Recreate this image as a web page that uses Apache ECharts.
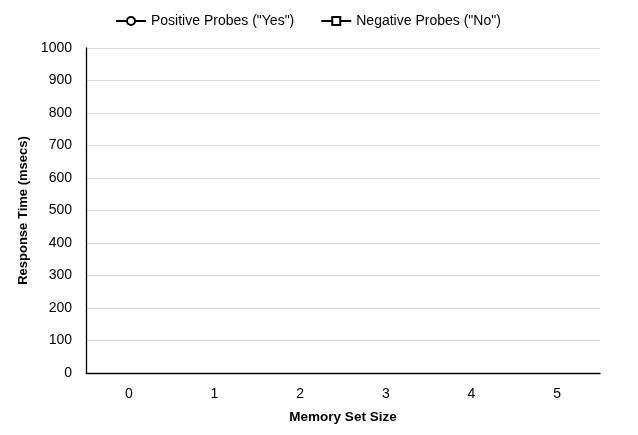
<!DOCTYPE html>
<html>
<head>
<meta charset="utf-8">
<script src="https://cdn.jsdelivr.net/npm/echarts@6/dist/echarts.min.js"></script>
<style>html,body{margin:0;padding:0;background:#fff}#c{width:638px;height:435px}</style>
</head>
<body>
<div id="c"></div>
<script>
var categories = ['0', '1', '2', '3', '4', '5'];
var positiveYes = [null, null, null, null, null, null];
var negativeNo = [null, null, null, null, null, null];
var yTicks = { min: 0, max: 1000, interval: 100 };

var font = 'Liberation Sans';
var chart = echarts.init(document.getElementById('c'), null, { renderer: 'canvas' });
chart.setOption({
  animation: false,
  backgroundColor: '#fff',
  textStyle: { fontFamily: font },
  legend: {
    top: 9,
    left: 110,
    itemGap: 26,
    itemWidth: 30,
    itemHeight: 10,
    textStyle: { fontFamily: font, fontSize: 14, color: '#000' },
    data: ['Positive Probes ("Yes")', 'Negative Probes ("No")']
  },
  grid: { left: 86, right: 38, top: 48, bottom: 62, containLabel: false },
  xAxis: {
    type: 'category',
    data: categories,
    boundaryGap: true,
    name: 'Memory Set Size',
    nameLocation: 'middle',
    nameGap: 37,
    nameTextStyle: { fontFamily: font, fontSize: 13.5, fontWeight: 'bold', color: '#000' },
    axisLine: { lineStyle: { color: '#000', width: 1.3 } },
    axisTick: { show: false },
    axisLabel: { fontFamily: font, fontSize: 14, color: '#000', margin: 14 }
  },
  yAxis: {
    type: 'value',
    min: yTicks.min,
    max: yTicks.max,
    interval: yTicks.interval,
    name: 'Response Time (msecs)',
    nameLocation: 'middle',
    nameGap: 52,
    nameRotate: 90,
    nameTextStyle: { fontFamily: font, fontSize: 13, fontWeight: 'bold', color: '#000' },
    axisLine: { show: true, lineStyle: { color: '#000', width: 1.3 } },
    axisTick: { show: false },
    axisLabel: { fontFamily: font, fontSize: 14, color: '#000', margin: 14, formatter: function (v) { return String(v); } },
    splitLine: { lineStyle: { color: '#d9d9d9', width: 1 } }
  },
  series: [
    {
      name: 'Positive Probes ("Yes")',
      type: 'line',
      data: positiveYes,
      symbol: 'circle',
      symbolSize: 8,
      lineStyle: { color: '#000', width: 3 },
      itemStyle: { color: '#fff', borderColor: '#000', borderWidth: 1.2 }
    },
    {
      name: 'Negative Probes ("No")',
      type: 'line',
      data: negativeNo,
      symbol: 'rect',
      symbolSize: 8,
      lineStyle: { color: '#000', width: 3 },
      itemStyle: { color: '#fff', borderColor: '#000', borderWidth: 1.2 }
    }
  ]
});
</script>
</body>
</html>
